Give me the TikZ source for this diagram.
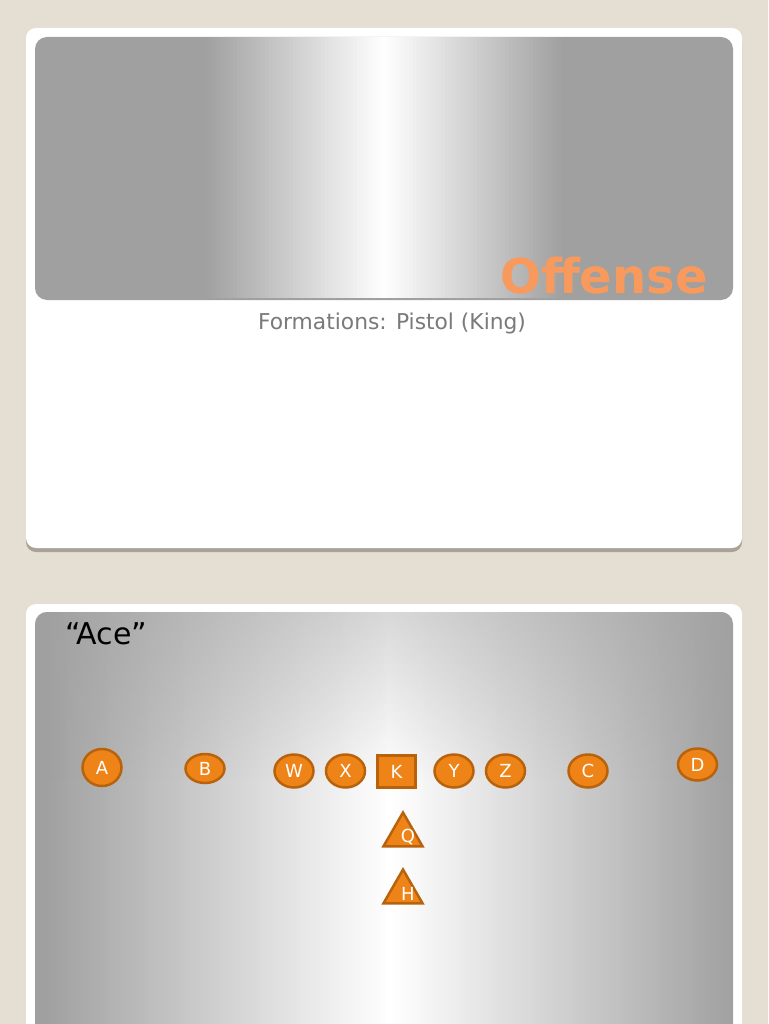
\documentclass[tikz,border=0pt]{standalone}
\usepackage{fontspec}
\setmainfont{DejaVu Sans}
\usetikzlibrary{shapes.geometric}

\definecolor{slidebg}{HTML}{E4DED3}
\definecolor{shadowgrey}{HTML}{A9A397}
\definecolor{panelgrey}{HTML}{A0A0A0}
\definecolor{titleorange}{HTML}{F89A5E}
\definecolor{playerfill}{HTML}{EE8418}
\definecolor{playerline}{HTML}{B9620C}
\definecolor{subgrey}{HTML}{7A7A7A}

\tikzset{
  player/.style={ellipse, fill=playerfill, draw=playerline, line width=2.5pt,
    minimum width=39pt, minimum height=32pt, inner sep=0pt, text=white,
    font=\fontsize{18}{18}\selectfont},
  snapper/.style={rectangle, fill=playerfill, draw=playerline, line width=2.5pt,
    minimum width=38pt, minimum height=32pt, inner sep=0pt, text=white,
    font=\fontsize{18}{18}\selectfont},
  backfield/.style={regular polygon, regular polygon sides=3, fill=playerfill,
    draw=playerline, line width=2.5pt, minimum size=45pt, inner sep=0pt},
  backlabel/.style={text=white, inner sep=0pt, font=\fontsize{18}{18}\selectfont}
}

\begin{document}
\begin{tikzpicture}[x=1pt,y=1pt]
  %%%%% START %%%%%
  \useasboundingbox (0,0) rectangle (768,-1024);
  \clip (0,0) rectangle (768,-1024);
  \fill[slidebg] (0,0) rectangle (768,-1024);

  % first slide
  \fill[shadowgrey, rounded corners=10pt] (26,-32) rectangle (742,-552);
  \fill[white, rounded corners=10pt] (26,-28) rectangle (742,-548);
  \fill[panelgrey, rounded corners=12pt] (35,-37) rectangle (733,-300);
  \foreach \i in {0,...,88} {
    \pgfmathsetmacro{\xl}{205+4*\i}
    \pgfmathsetmacro{\pct}{min(100,abs(\xl+2-384)/178*100)}
    \fill[panelgrey!\pct!white] (\xl,-37) rectangle (\xl+4.5,-298);
  }
  \node[anchor=base east, text=titleorange, inner sep=0pt,
    font=\fontsize{48}{48}\selectfont\bfseries] (title) at (708,-293) {Offense};
  \node[anchor=base, text=subgrey, inner sep=0pt,
    font=\fontsize{21.8}{21.8}\selectfont] (subtitle) at (392,-329)
    {Formations: Pistol (King)};

  % second slide
  \fill[white, rounded corners=10pt] (26,-604) rectangle (742,-1060);
  \begin{scope}
    \clip[rounded corners=12pt] (35,-612) rectangle (733,-1060);
    \foreach \i in {0,...,174} {
      \pgfmathsetmacro{\xl}{35+4*\i}
      \pgfmathsetmacro{\pct}{min(100,abs(\xl+2-390)/345*100)}
      \fill[panelgrey!\pct!white] (\xl,-612) rectangle (\xl+4.5,-1060);
    }
    % darker towards the top
    \foreach \j in {0,...,41} {
      \pgfmathsetmacro{\yt}{-612-4*\j}
      \pgfmathsetmacro{\op}{0.4*(1-\j/42)}
      \fill[panelgrey, fill opacity=\op] (35,\yt) rectangle (733,\yt-4);
    }
  \end{scope}
  \node[anchor=base west, inner sep=0pt, font=\fontsize{30}{30}\selectfont]
    (ace) at (65,-644) {“Ace”};

  % line
  \node[player, minimum height=37pt] (a) at (102,-767.5) {A};
  \node[player, minimum height=29pt] (b) at (205,-768.5) {B};
  \node[player, minimum height=33pt] (w) at (294,-771) {W};
  \node[player, minimum height=33pt] (x) at (345.5,-771) {X};
  \node[snapper] (k) at (396.5,-771.5) {K};
  \node[player, minimum height=33pt] (y) at (454,-771) {Y};
  \node[player, minimum height=33pt] (z) at (505.5,-771) {Z};
  \node[player, minimum height=33pt] (c) at (588,-771) {C};
  \node[player, minimum height=32pt] (d) at (697.5,-764.5) {D};

  % backs
  \node[backfield] (qb) at (403,-835) {};
  \node[backlabel] (q) at (408,-837) {Q};
  \node[backfield] (hb) at (403,-892) {};
  \node[backlabel] (h) at (408,-894) {H};
  %%%%% END %%%%%
\end{tikzpicture}
\end{document}
